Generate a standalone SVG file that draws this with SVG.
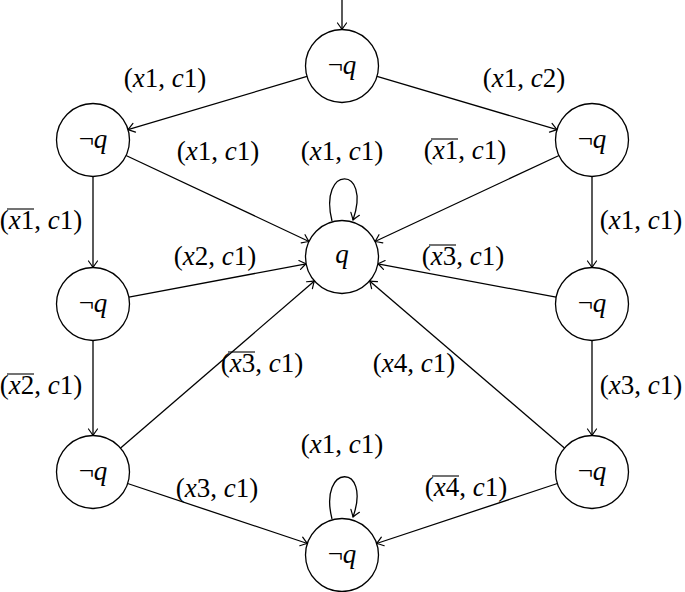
<svg xmlns="http://www.w3.org/2000/svg" width="685" height="592" viewBox="0 0 685 592">
<style>
.node circle{fill:#fff;stroke:#000;stroke-width:1.3}
.nt{font-family:"Liberation Serif","DejaVu Serif","Times New Roman",serif;font-size:27px;text-anchor:middle;fill:#000}
.lb{font-family:"Liberation Serif","DejaVu Serif","Times New Roman",serif;font-size:27px;text-anchor:middle;fill:#000}
.i{font-style:italic}
.ov line{stroke:#000;stroke-width:1.1}
.edges line,.edges path{stroke:#000;stroke-width:1.3;fill:none;marker-end:url(#ar)}
</style>
<defs>
<marker id="ar" markerUnits="userSpaceOnUse" viewBox="-8 -6 10 12" refX="0" refY="0" markerWidth="10" markerHeight="12" orient="auto">
<path d="M -6.5 -4.5 Q -2 -1.2 0 0 Q -2 1.2 -6.5 4.5" fill="none" stroke="#000" stroke-width="1.2" stroke-linecap="round"/>
</marker>
</defs>
<g class="edges">
<line x1="342" y1="0" x2="342" y2="29.5"/>
<line x1="307" y1="76.4" x2="128" y2="129.6"/>
<line x1="377" y1="76.4" x2="557" y2="129.6"/>
<line x1="126" y1="155.5" x2="309" y2="241.5"/>
<line x1="559" y1="155.5" x2="375" y2="241.5"/>
<path d="M 332 221 C 318 165, 372 165, 353 220"/>
<line x1="93" y1="176.5" x2="93" y2="267.5"/>
<line x1="592" y1="176.5" x2="592" y2="267.5"/>
<line x1="128.9" y1="297.2" x2="306.1" y2="263.8"/>
<line x1="556.1" y1="297.2" x2="377.9" y2="263.8"/>
<line x1="93" y1="340.5" x2="93" y2="435.5"/>
<line x1="592" y1="340.5" x2="592" y2="435.5"/>
<line x1="120.6" y1="448.1" x2="314.4" y2="280.9"/>
<line x1="564.4" y1="448.1" x2="369.6" y2="280.9"/>
<line x1="127.6" y1="483.5" x2="307.4" y2="543.5"/>
<line x1="557.4" y1="483.5" x2="376.6" y2="543.5"/>
<path d="M 332 519 C 318 463, 372 463, 353 517"/>
</g>
<g class="labels">
<text class="lb" x="165" y="87">(<tspan class="i">x</tspan>1, <tspan class="i">c</tspan>1)</text>
<text class="lb" x="524" y="87">(<tspan class="i">x</tspan>1, <tspan class="i">c</tspan>2)</text>
<text class="lb" x="218" y="160">(<tspan class="i">x</tspan>1, <tspan class="i">c</tspan>1)</text>
<text class="lb" x="342" y="160">(<tspan class="i">x</tspan>1, <tspan class="i">c</tspan>1)</text>
<text class="lb" x="465" y="159">(<tspan class="i">x</tspan>1, <tspan class="i">c</tspan>1)</text>
<text class="lb" x="41" y="229">(<tspan class="i">x</tspan>1, <tspan class="i">c</tspan>1)</text>
<text class="lb" x="641" y="229">(<tspan class="i">x</tspan>1, <tspan class="i">c</tspan>1)</text>
<text class="lb" x="215" y="265">(<tspan class="i">x</tspan>2, <tspan class="i">c</tspan>1)</text>
<text class="lb" x="463" y="265">(<tspan class="i">x</tspan>3, <tspan class="i">c</tspan>1)</text>
<text class="lb" x="41" y="394">(<tspan class="i">x</tspan>2, <tspan class="i">c</tspan>1)</text>
<text class="lb" x="641" y="394">(<tspan class="i">x</tspan>3, <tspan class="i">c</tspan>1)</text>
<text class="lb" x="262" y="372">(<tspan class="i">x</tspan>3, <tspan class="i">c</tspan>1)</text>
<text class="lb" x="414" y="372">(<tspan class="i">x</tspan>4, <tspan class="i">c</tspan>1)</text>
<text class="lb" x="217" y="497">(<tspan class="i">x</tspan>3, <tspan class="i">c</tspan>1)</text>
<text class="lb" x="466" y="496">(<tspan class="i">x</tspan>4, <tspan class="i">c</tspan>1)</text>
<text class="lb" x="342" y="453">(<tspan class="i">x</tspan>1, <tspan class="i">c</tspan>1)</text>
<g class="ov">
<line x1="431" y1="139" x2="458" y2="139"/>
<line x1="7" y1="209" x2="34" y2="209"/>
<line x1="429" y1="245" x2="456" y2="245"/>
<line x1="7" y1="374" x2="34" y2="374"/>
<line x1="228" y1="352" x2="255" y2="352"/>
<line x1="432" y1="476" x2="459" y2="476"/>
</g>
</g>
<g id="nT" class="node"><circle cx="342" cy="66" r="36.5"/><text class="nt" x="342" y="74">¬<tspan class="i">q</tspan></text></g>
<g id="nL1" class="node"><circle cx="93" cy="140" r="36.5"/><text class="nt" x="93" y="148">¬<tspan class="i">q</tspan></text></g>
<g id="nR1" class="node"><circle cx="592" cy="140" r="36.5"/><text class="nt" x="592" y="148">¬<tspan class="i">q</tspan></text></g>
<g id="nQ" class="node"><circle cx="342" cy="257" r="36.5"/><text class="nt i" x="342" y="263">q</text></g>
<g id="nL2" class="node"><circle cx="93" cy="304" r="36.5"/><text class="nt" x="93" y="312">¬<tspan class="i">q</tspan></text></g>
<g id="nR2" class="node"><circle cx="592" cy="304" r="36.5"/><text class="nt" x="592" y="312">¬<tspan class="i">q</tspan></text></g>
<g id="nL3" class="node"><circle cx="93" cy="472" r="36.5"/><text class="nt" x="93" y="480">¬<tspan class="i">q</tspan></text></g>
<g id="nR3" class="node"><circle cx="592" cy="472" r="36.5"/><text class="nt" x="592" y="480">¬<tspan class="i">q</tspan></text></g>
<g id="nB" class="node"><circle cx="342" cy="555" r="36.5"/><text class="nt" x="342" y="563">¬<tspan class="i">q</tspan></text></g>
</svg>
